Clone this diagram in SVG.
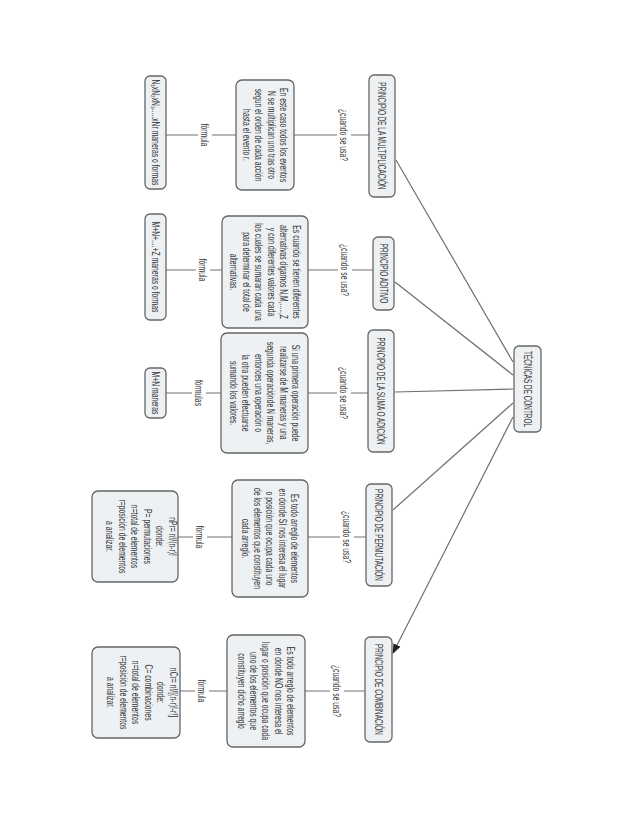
<svg xmlns="http://www.w3.org/2000/svg" width="638" height="826" viewBox="0 0 638 826">
<defs>
<style>
.box{fill:#eef1f3;stroke:#666;stroke-width:1.3}
.t{font-family:"Liberation Sans",Arial,sans-serif;font-size:10px;fill:#333;text-anchor:middle}
.ln{stroke:#707070;stroke-width:1.2;fill:none}
.lb{fill:#fff}
</style>
<marker id="arr" markerWidth="10" markerHeight="8" refX="9" refY="4" orient="auto" markerUnits="userSpaceOnUse">
<path d="M0,0 L10,4 L0,8 Z" fill="#222"/>
</marker>
</defs>
<rect width="638" height="826" fill="#fff"/>

<g id="connectors">
<line class="ln" x1="513" y1="362" x2="396" y2="160"/>
<line class="ln" x1="513" y1="375" x2="395" y2="282"/>
<line class="ln" x1="513" y1="389" x2="395" y2="392"/>
<line class="ln" x1="513" y1="403" x2="393" y2="510"/>
<line class="ln" x1="513" y1="417" x2="393" y2="653" marker-end="url(#arr)"/>

<line class="ln" x1="369" y1="135" x2="294" y2="135"/>
<line class="ln" x1="236" y1="135" x2="166" y2="135"/>
<line class="ln" x1="373" y1="270" x2="308" y2="270"/>
<line class="ln" x1="222" y1="270" x2="166" y2="270"/>
<line class="ln" x1="368" y1="393" x2="308" y2="393"/>
<line class="ln" x1="221" y1="393" x2="166" y2="393"/>
<line class="ln" x1="366" y1="537" x2="308" y2="537"/>
<line class="ln" x1="232" y1="537" x2="178" y2="537"/>
<line class="ln" x1="365" y1="691" x2="305" y2="691"/>
<line class="ln" x1="227" y1="691" x2="180" y2="691"/>

<g transform="translate(344,135) rotate(90)"><rect class="lb" x="-28" y="-7" width="56" height="14"/><text class="t" transform="scale(0.68,1)" y="3.5">¿cuando se usa?</text></g>
<g transform="translate(205,135) rotate(90)"><rect class="lb" x="-15" y="-7" width="30" height="14"/><text class="t" transform="scale(0.68,1)" y="3.5">fórmula</text></g>
<g transform="translate(345,270) rotate(90)"><rect class="lb" x="-28" y="-7" width="56" height="14"/><text class="t" transform="scale(0.68,1)" y="3.5">¿cuando se usa?</text></g>
<g transform="translate(203,270) rotate(90)"><rect class="lb" x="-15" y="-7" width="30" height="14"/><text class="t" transform="scale(0.68,1)" y="3.5">fórmula</text></g>
<g transform="translate(344,393) rotate(90)"><rect class="lb" x="-28" y="-7" width="56" height="14"/><text class="t" transform="scale(0.68,1)" y="3.5">¿cuando se usa?</text></g>
<g transform="translate(199,393) rotate(90)"><rect class="lb" x="-17" y="-7" width="34" height="14"/><text class="t" transform="scale(0.68,1)" y="3.5">fórmulas</text></g>
<g transform="translate(347,537) rotate(90)"><rect class="lb" x="-28" y="-7" width="56" height="14"/><text class="t" transform="scale(0.68,1)" y="3.5">¿cuando se usa?</text></g>
<g transform="translate(200,537) rotate(90)"><rect class="lb" x="-15" y="-7" width="30" height="14"/><text class="t" transform="scale(0.68,1)" y="3.5">fórmula</text></g>
<g transform="translate(337,691) rotate(90)"><rect class="lb" x="-28" y="-7" width="56" height="14"/><text class="t" transform="scale(0.68,1)" y="3.5">¿cuando se usa?</text></g>
<g transform="translate(202,691) rotate(90)"><rect class="lb" x="-15" y="-7" width="30" height="14"/><text class="t" transform="scale(0.68,1)" y="3.5">fórmula</text></g>
</g>

<g id="root" transform="translate(527.5,389) rotate(90)">
<rect class="box" x="-43" y="-13.5" width="86" height="27" rx="5"/>
<text class="t" transform="scale(0.64,1)" y="3.5">TÉCNICAS DE CONTROL</text>
</g>

<g id="p-multiplicacion" transform="translate(382,136) rotate(90)">
<rect class="box" x="-61" y="-13" width="122" height="26" rx="5"/>
<text class="t" transform="scale(0.64,1)" y="3.5">PRINCIPIO DE LA MULTIPLICACIÓN</text>
</g>
<g id="p-aditivo" transform="translate(383.5,273.5) rotate(90)">
<rect class="box" x="-36.5" y="-10.5" width="73" height="21" rx="5"/>
<text class="t" transform="scale(0.64,1)" y="3.5">PRINCIPIO ADITIVO</text>
</g>
<g id="p-suma" transform="translate(381,391) rotate(90)">
<rect class="box" x="-61" y="-13" width="122" height="26" rx="5"/>
<text class="t" transform="scale(0.64,1)" y="3.5">PRINCIPIO DE LA SUMA O ADICIÓN</text>
</g>
<g id="p-permutacion" transform="translate(379,535) rotate(90)">
<rect class="box" x="-51" y="-13" width="102" height="26" rx="5"/>
<text class="t" transform="scale(0.64,1)" y="3.5">PRINCIPIO DE PERMUTACIÓN</text>
</g>
<g id="p-combinacion" transform="translate(378.5,689.5) rotate(90)">
<rect class="box" x="-52.5" y="-13.5" width="105" height="27" rx="5"/>
<text class="t" transform="scale(0.64,1)" y="3.5">PRINCIPIO DE COMBINACIÓN</text>
</g>

<g id="d-multiplicacion" transform="translate(265,135) rotate(90)">
<rect class="box" x="-55" y="-29" width="110" height="58" rx="6"/>
<text class="t" transform="scale(0.68,1)" y="-15.25"><tspan x="0">En este caso todos los eventos</tspan><tspan x="0" dy="12.5">N se multiplican uno tras otro</tspan><tspan x="0" dy="12.5">segun el orden de cada acción</tspan><tspan x="0" dy="12.5">hasta el evento r.</tspan></text>
</g>
<g id="d-aditivo" transform="translate(265,272) rotate(90)">
<rect class="box" x="-56" y="-43" width="112" height="86" rx="6"/>
<text class="t" transform="scale(0.68,1)" y="-27.75"><tspan x="0">Es cuando se tienen diferentes</tspan><tspan x="0" dy="12.5">alternativas digamos N,M,.....,Z</tspan><tspan x="0" dy="12.5">y con diferentes valores cada</tspan><tspan x="0" dy="12.5">los cuales se sumaran cada una</tspan><tspan x="0" dy="12.5">para determinar el total de</tspan><tspan x="0" dy="12.5">alternativas.</tspan></text>
</g>
<g id="d-suma" transform="translate(264.5,393) rotate(90)">
<rect class="box" x="-60" y="-43.5" width="120" height="87" rx="6"/>
<text class="t" transform="scale(0.68,1)" y="-27.75"><tspan x="0">Si una primera operación puede</tspan><tspan x="0" dy="12.5">realizarse de M maneras y una</tspan><tspan x="0" dy="12.5">segunda operaciónde N maneras,</tspan><tspan x="0" dy="12.5">entonces una operación o</tspan><tspan x="0" dy="12.5">la otra pueden efectuarse</tspan><tspan x="0" dy="12.5">sumando los valores.</tspan></text>
</g>
<g id="d-permutacion" transform="translate(270,538.5) rotate(90)">
<rect class="box" x="-58.5" y="-38" width="117" height="76" rx="6"/>
<text class="t" transform="scale(0.68,1)" y="-21.5"><tspan x="0">Es todo arreglo de elementos</tspan><tspan x="0" dy="12.5">en donde SI nos interesa el lugar</tspan><tspan x="0" dy="12.5">o posición que ocupa cada uno</tspan><tspan x="0" dy="12.5">de los elementos que constituyen</tspan><tspan x="0" dy="12.5">cada arreglo.</tspan></text>
</g>
<g id="d-combinacion" transform="translate(266,691) rotate(90)">
<rect class="box" x="-56" y="-39" width="112" height="78" rx="6"/>
<text class="t" transform="scale(0.68,1)" y="-21.5"><tspan x="0">Es todo arreglo de elementos</tspan><tspan x="0" dy="12.5">en donde NO nos interesa el</tspan><tspan x="0" dy="12.5">lugar o posición que ocupa cada</tspan><tspan x="0" dy="12.5">uno de los elementos que</tspan><tspan x="0" dy="12.5">constituyen dicho arreglo</tspan></text>
</g>

<g id="f-multiplicacion" transform="translate(155.5,132.5) rotate(90)">
<rect class="box" x="-56.5" y="-10.5" width="113" height="21" rx="5"/>
<text class="t" transform="scale(0.68,1)" y="3.5">N₁xN₂xN₃.....xNr maneras o formas</text>
</g>
<g id="f-aditivo" transform="translate(155.5,267) rotate(90)">
<rect class="box" x="-53" y="-10.5" width="106" height="21" rx="5"/>
<text class="t" transform="scale(0.68,1)" y="3.5">M+N+....+Z maneras o formas</text>
</g>
<g id="f-suma" transform="translate(155.5,393) rotate(90)">
<rect class="box" x="-25" y="-10.5" width="50" height="21" rx="5"/>
<text class="t" transform="scale(0.68,1)" y="3.5">M+N maneras</text>
</g>
<g id="f-permutacion" transform="translate(135,536.5) rotate(90)">
<rect class="box" x="-45.5" y="-43" width="91" height="86" rx="6"/>
<text class="t" transform="scale(0.68,1)" y="-33.75"><tspan x="0">nPr= n!/(n-r)!</tspan><tspan x="0" dy="12.5">donde:</tspan><tspan x="0" dy="12.5">P= permutaciones</tspan><tspan x="0" dy="12.5">n=total de elementos</tspan><tspan x="0" dy="12.5">r=posición de elementos</tspan><tspan x="0" dy="12.5">a analizar.</tspan></text>
</g>
<g id="f-combinacion" transform="translate(136,692.5) rotate(90)">
<rect class="box" x="-45.5" y="-44" width="91" height="88" rx="6"/>
<text class="t" transform="scale(0.68,1)" y="-33.75"><tspan x="0">nCr= n!/[(n-r)!-r!]</tspan><tspan x="0" dy="12.5">donde:</tspan><tspan x="0" dy="12.5">C= combinaciones</tspan><tspan x="0" dy="12.5">n=total de elementos</tspan><tspan x="0" dy="12.5">r=posición de elementos</tspan><tspan x="0" dy="12.5">a analizar.</tspan></text>
</g>
</svg>
